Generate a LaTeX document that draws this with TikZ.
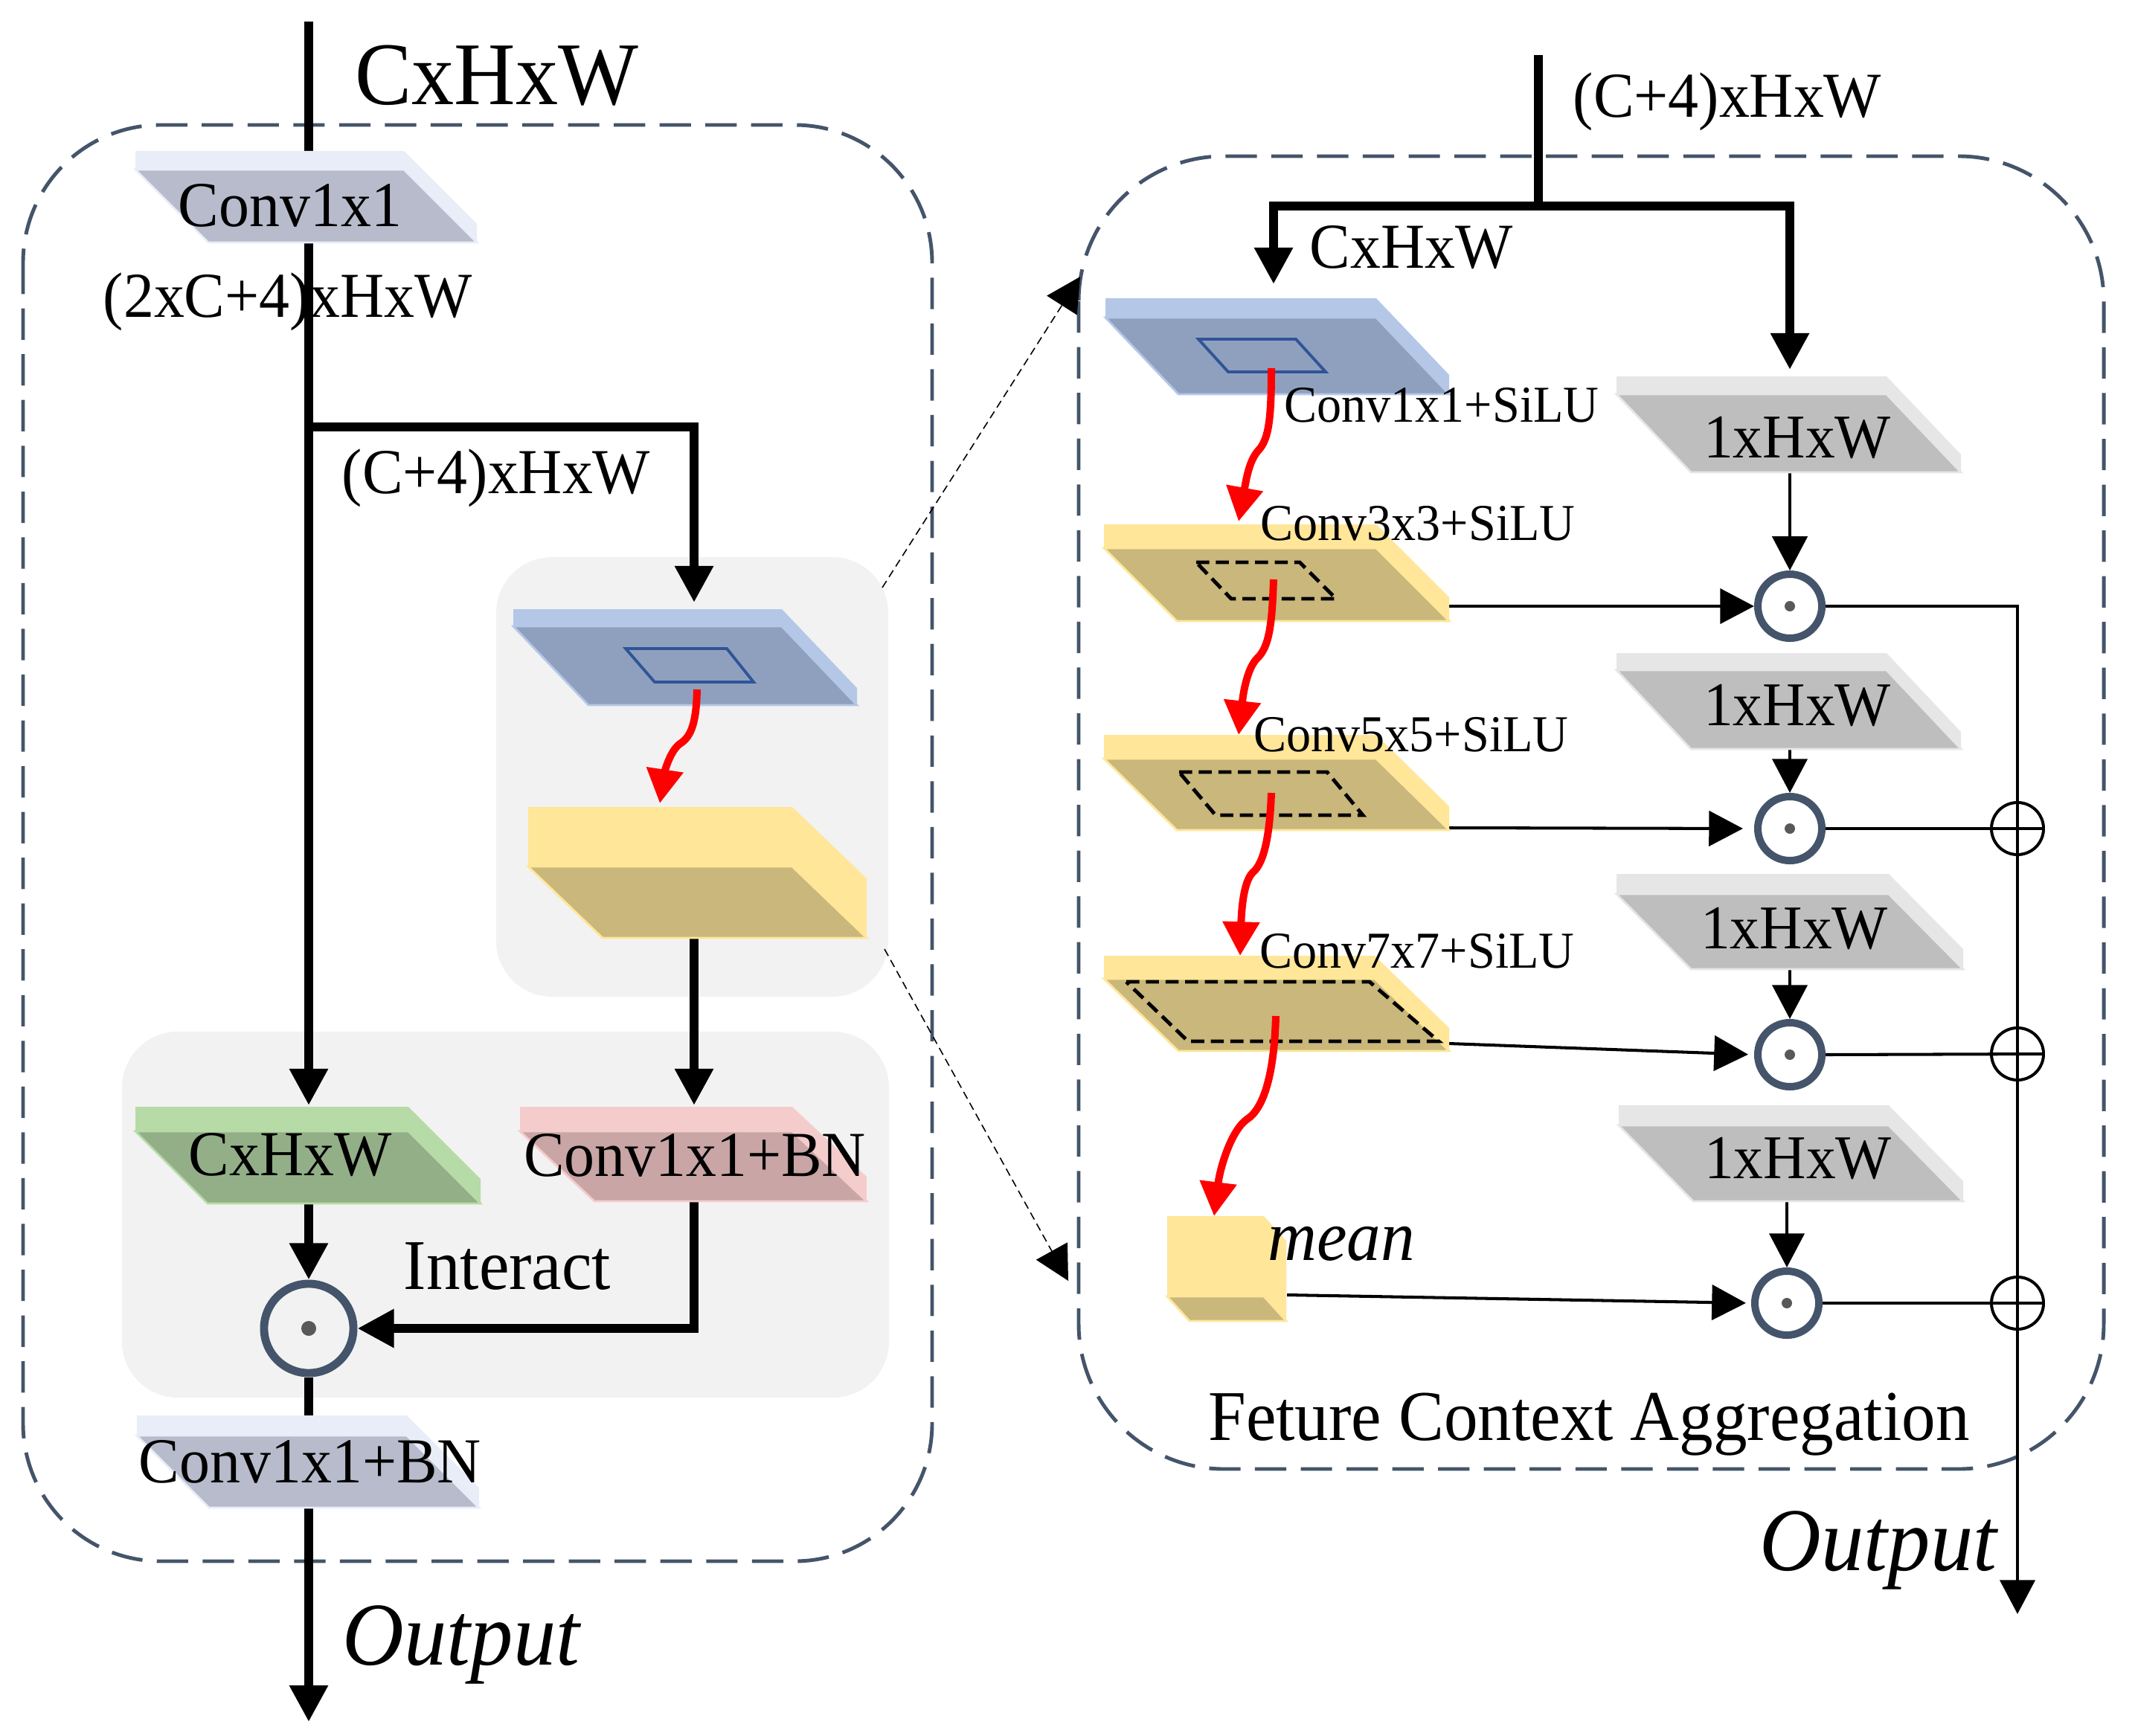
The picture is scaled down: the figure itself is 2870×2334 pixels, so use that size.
\documentclass[tikz,border=0pt]{standalone}
\usepackage{fontspec}
\setmainfont{Liberation Serif}[FakeStretch=0.95]
\usetikzlibrary{arrows.meta}
\definecolor{dashc}{HTML}{44546A}
\definecolor{bgbox}{HTML}{F2F2F2}
\definecolor{lavL}{HTML}{E9EDF8}
\definecolor{lavD}{HTML}{B7BBCB}
\definecolor{bluL}{HTML}{B4C7E7}
\definecolor{bluD}{HTML}{8FA0BF}
\definecolor{yelL}{HTML}{FFE699}
\definecolor{yelD}{HTML}{C9B77B}
\definecolor{greL}{HTML}{B6DBA6}
\definecolor{greD}{HTML}{93AF88}
\definecolor{pnkL}{HTML}{F5CCCC}
\definecolor{pnkD}{HTML}{C9A5A5}
\definecolor{gryL}{HTML}{E7E6E6}
\definecolor{gryD}{HTML}{BEBEBE}
\definecolor{dotc}{HTML}{595959}
\definecolor{innerblue}{HTML}{2F5597}
\newcommand{\fBig}{\fontsize{34.2}{40}\selectfont}
\newcommand{\fMid}{\fontsize{24.5}{29}\selectfont}
\newcommand{\fSm}{\fontsize{19.8}{24}\selectfont}
\newcommand{\fOne}{\fontsize{23.8}{28}\selectfont}
\newcommand{\fLg}{\fontsize{27.3}{32}\selectfont}
\newcommand{\fOut}{\fontsize{34.3}{40}\selectfont}
% light, dark, x1, y1, width, skew, height, thickness
\newcommand{\drawslab}[8]{%
  \fill[#1] (#3,#4-#8) -- (#3+#5,#4-#8) -- (#3+#5+#6,#4+#7-#8) -- (#3+#5+#6,#4+#7) -- (#3+#6,#4+#7) -- (#3,#4) -- cycle;
  \filldraw[fill=#2,draw=#1,line width=0.8pt] (#3,#4) -- (#3+#5,#4) -- (#3+#5+#6,#4+#7) -- (#3+#6,#4+#7) -- cycle;
}
\begin{document}
\begin{tikzpicture}[x=0.01cm,y=-0.01cm,
  lbl/.style={inner sep=0pt,anchor=base},
  thickline/.style={line width=3.4pt,line join=miter},
  thickarrow/.style={thickline,-{Triangle[length=14pt,width=14pt]}},
  thinline/.style={line width=1.15pt},
  thinarrow/.style={thinline,-{Triangle[length=13pt,width=13.4pt]}},
  redarrow/.style={red,line width=2.85pt,-{Triangle[length=13pt,width=13.6pt]}},
  zoomarrow/.style={line width=0.45pt,dash pattern=on 3pt off 1.8pt,-{Triangle[length=13pt,width=13.6pt]}},
  dashbox/.style={draw=dashc,line width=1.4pt,dash pattern=on 12pt off 5.5pt},
  odot/.style={circle,draw=dashc,line width=2.85pt,minimum size=0.86cm,inner sep=0pt},
  oplus/.style={circle,draw=black,line width=1.05pt,minimum size=0.7cm,inner sep=0pt},
  innersolid/.style={draw=innerblue,line width=1.1pt},
  innerdash/.style={draw=black,line width=1.4pt,dash pattern=on 5pt off 2.5pt}]
\useasboundingbox (0,0) rectangle (2870,2334);

% background boxes
\fill[bgbox,rounded corners=0.75cm] (667,749) rectangle (1194,1340);
\fill[bgbox,rounded corners=0.75cm] (164,1387) rectangle (1195,1879);
\draw[dashbox,rounded corners=1.85cm] (31,168) rectangle (1253,2099);
\draw[dashbox,rounded corners=1.95cm] (1450,210) rectangle (2828,1975);

% coordinates
\coordinate (inL) at (415,29);
\coordinate (brL) at (415,574);
\coordinate (brR) at (933,574);
\coordinate (bluLtip) at (933,810);
\coordinate (yelLB) at (933,1261);
\coordinate (pnkT) at (933,1486);
\coordinate (greT) at (415,1486);
\coordinate (greB) at (415,1618);
\coordinate (pnkB) at (933,1615);
\coordinate (outL) at (415,2315);
\coordinate (inR) at (2068,74);
\coordinate (jR) at (2068,277);
\coordinate (cl) at (1712,277);
\coordinate (cr) at (2406,277);
\coordinate (bluRtip) at (1712,382);
\coordinate (gryTip) at (2406,497);
\coordinate (g1B) at (2406,635);
\coordinate (g2B) at (2406,1007);
\coordinate (g3B) at (2406,1303);
\coordinate (g4B) at (2402,1615);
\coordinate (c3R) at (1948,815);
\coordinate (c5R) at (1948,1113);
\coordinate (c7R) at (1948,1403);
\coordinate (mnR) at (1730,1741);
\coordinate (outR) at (2712,2170);
\coordinate (zu1) at (1186,790);
\coordinate (zu2) at (1452,372);
\coordinate (zd1) at (1189,1276);
\coordinate (zd2) at (1436,1722);

% circles
\node[odot,line width=3.1pt,minimum size=1.2cm] (mL) at (415,1786) {};
\node[odot] (m1) at (2406,815) {};
\node[odot] (m2) at (2406,1114) {};
\node[odot] (m3) at (2406,1418) {};
\node[odot] (m4) at (2402,1752) {};
\fill[dotc] (mL) circle (10);
\foreach \n in {m1,m2,m3,m4} \fill[dotc] (\n) circle (7);

% thick connectors (left)
\draw[thickarrow] (inL) -- (greT);
\draw[thickarrow] (brL) -- (brR) -- (bluLtip);
\draw[thickarrow] (yelLB) -- (pnkT);
\draw[thickarrow] (greB) -- (mL.north);
\draw[thickarrow] (pnkB) |- (mL.east);
\draw[thickarrow] (mL.south) -- (outL);

% thick connectors (right top)
\draw[thickline] (inR) -- (jR);
\draw[thickarrow] (jR) -- (cl) -- (bluRtip);
\draw[thickarrow] (jR) -- (cr) -- (gryTip);

% thin connectors (right)
\draw[thinarrow] (g1B) -- (m1.north);
\draw[thinarrow] (c3R) -- (m1.west);
\draw[thinarrow] (m1.east) -| (outR);
\draw[thinarrow] (g2B) -- (m2.north);
\draw[thinarrow,shorten >=0.15cm] (c5R) -- (m2.west);
\draw[thinarrow] (g3B) -- (m3.north);
\draw[thinarrow,shorten >=0.08cm] (c7R) -- (m3.west);
\draw[thinarrow] (g4B) -- (m4.north);
\draw[thinarrow,shorten >=0.07cm] (mnR) -- (m4.west);

% oplus nodes
\node[oplus,fill=white] (p1) at (2712,1114) {};
\node[oplus,fill=white] (p2) at (2712,1417) {};
\node[oplus,fill=white] (p3) at (2712,1752) {};
\draw[thinline] (m2.east) -- (p1.east);
\draw[thinline] (m3.east) -- (p2.east);
\draw[thinline] (m4.east) -- (p3.east);
\foreach \p in {p1,p2,p3} \draw[thinline] (\p.north) -- (\p.south);
\node[oplus] at (p1) {};
\node[oplus] at (p2) {};
\node[oplus] at (p3) {};

% zoom connectors
\draw[zoomarrow] (zu1) -- (zu2);
\draw[zoomarrow] (zd1) -- (zd2);

% slabs
\drawslab{lavL}{lavD}{182}{228}{361}{98}{98}{25}
\drawslab{bluL}{bluD}{690}{842}{361}{101}{106}{23}
\drawslab{yelL}{yelD}{710}{1165}{355}{100}{96}{80}
\drawslab{greL}{greD}{182}{1521}{367}{97}{97}{33}
\drawslab{pnkL}{pnkD}{699}{1521}{366}{100}{94}{33}
\drawslab{lavL}{lavD}{184}{1930}{363}{97}{97}{27}
\drawslab{bluL}{bluD}{1486}{427}{364}{98}{103}{26}
\drawslab{gryL}{gryD}{2173}{530}{363}{100}{105}{24}
\drawslab{yelL}{yelD}{1484}{737}{366}{98}{98}{32}
\drawslab{gryL}{gryD}{2173}{901}{363}{100}{106}{23}
\drawslab{yelL}{yelD}{1484}{1020}{366}{98}{96}{32}
\drawslab{gryL}{gryD}{2173}{1202}{366}{100}{101}{27}
\drawslab{yelL}{yelD}{1484}{1316}{364}{100}{97}{31}
\drawslab{gryL}{gryD}{2176}{1513}{363}{100}{102}{27}
\drawslab{yelL}{yelD}{1569}{1743}{130}{30}{33}{108}

% inner kernels
\draw[innersolid] (841,872) -- (977,872) -- (1013,917) -- (880,917) -- cycle;
\draw[innersolid] (1611,456) -- (1742,456) -- (1782,500) -- (1651,500) -- cycle;
\draw[innerdash] (1608,756) -- (1747,756) -- (1796,805) -- (1655,805) -- cycle;
\draw[innerdash] (1585,1038) -- (1784,1038) -- (1832,1096) -- (1634,1096) -- cycle;
\draw[innerdash] (1514,1320) -- (1841,1320) -- (1934,1400) -- (1597,1400) -- cycle;

% red arrows
\draw[redarrow] (937,927) .. controls (936,970) and (930,990) .. (914,1000) .. controls (900,1010) and (893,1040) .. (887,1080);
\draw[redarrow] (1709,495) .. controls (1709,560) and (1706,590) .. (1692,605) .. controls (1680,618) and (1676,640) .. (1665,701);
\draw[redarrow] (1712,779) .. controls (1710,840) and (1706,870) .. (1690,885) .. controls (1678,897) and (1672,925) .. (1665,988);
\draw[redarrow] (1709,1066) .. controls (1707,1120) and (1700,1160) .. (1684,1173) .. controls (1672,1185) and (1669,1220) .. (1667,1285);
\draw[redarrow] (1715,1366) .. controls (1713,1440) and (1700,1490) .. (1676,1505) .. controls (1655,1520) and (1640,1570) .. (1632,1635);

% texts
\node[lbl,font=\fBig] (tCHW) at (668,141) {CxHxW};
\node[lbl,font=\fMid] (tConvA) at (390,305) {Conv1x1};
\node[lbl,font=\fMid] (t2C) at (387,427) {(2xC+4)xHxW};
\node[lbl,font=\fMid] (tC4L) at (667,663) {(C+4)xHxW};
\node[lbl,font=\fMid] (tGreen) at (390,1580) {CxHxW};
\node[lbl,font=\fMid] (tPink) at (934,1581) {Conv1x1+BN};
\node[lbl,font=\fLg] (tInter) at (682,1733) {Interact};
\node[lbl,font=\fMid] (tConvB) at (417,1993) {Conv1x1+BN};
\node[lbl,font=\fOut] (tOutL) at (620,2238) {\itshape Output};
\node[lbl,font=\fMid] (tC4R) at (2322,158) {(C+4)xHxW};
\node[lbl,font=\fMid] (tCHWR) at (1897,361) {CxHxW};
\node[lbl,font=\fSm] (tS1) at (1938,568) {Conv1x1+SiLU};
\node[lbl,font=\fSm] (tS3) at (1906,726) {Conv3x3+SiLU};
\node[lbl,font=\fSm] (tS5) at (1897,1010) {Conv5x5+SiLU};
\node[lbl,font=\fSm] (tS7) at (1905,1301) {Conv7x7+SiLU};
\node[lbl,font=\fOne] (tG1) at (2416,616) {1xHxW};
\node[lbl,font=\fOne] (tG2) at (2416,975) {1xHxW};
\node[lbl,font=\fOne] (tG3) at (2412,1275) {1xHxW};
\node[lbl,font=\fOne] (tG4) at (2417,1584) {1xHxW};
\node[lbl,font=\fLg] (tMean) at (1803,1694) {\itshape mean};
\node[lbl,font=\fLg] (tFCA) at (2136,1936) {Feture Context Aggregation};
\node[lbl,font=\fOut] (tOutR) at (2525,2111) {\itshape Output};
\end{tikzpicture}
\end{document}
